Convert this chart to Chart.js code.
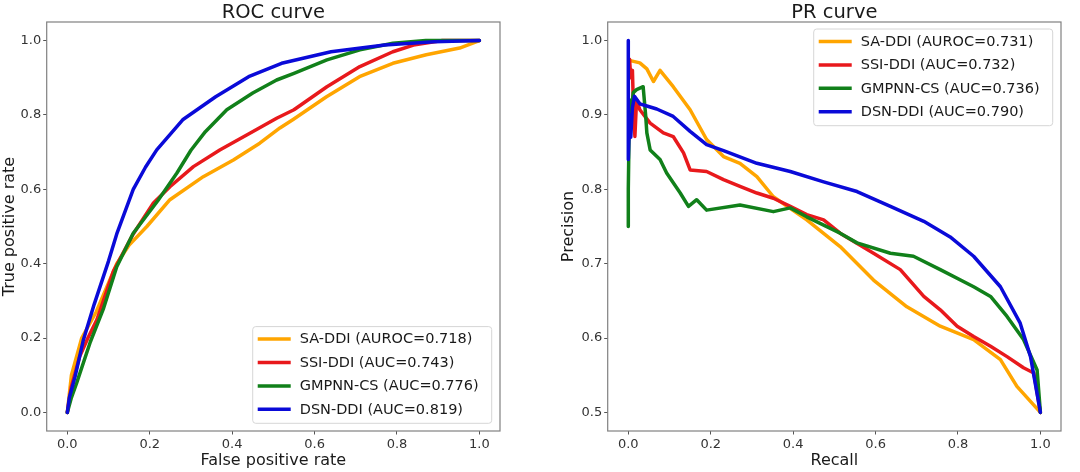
<!DOCTYPE html>
<html>
<head>
<meta charset="utf-8">
<script src="https://cdn.jsdelivr.net/npm/chart.js@4.4.1/dist/chart.umd.min.js"></script>
<style>
  html, body { margin: 0; padding: 0; background: #fff; }
  #wrap { position: relative; width: 1080px; height: 472px; }
  .pane { position: absolute; top: 0; width: 540px; height: 472px; }
</style>
</head>
<body>
<div id="wrap">
  <div class="pane" style="left:0"><canvas id="roc" width="540" height="472"></canvas></div>
  <div class="pane" style="left:540px"><canvas id="pr" width="540" height="472"></canvas></div>
</div>
<script>
// ---- data ----
const rocLabels = ['SA-DDI (AUROC=0.718)', 'SSI-DDI (AUC=0.743)', 'GMPNN-CS (AUC=0.776)', 'DSN-DDI (AUC=0.819)'];
const prLabels = ['SA-DDI (AUROC=0.731)', 'SSI-DDI (AUC=0.732)', 'GMPNN-CS (AUC=0.736)', 'DSN-DDI (AUC=0.790)'];
const lineColors = ['#FFA500', '#E8191C', '#11801A', '#0A0AD8'];

const unitTicks = [0, 0.2, 0.4, 0.6, 0.8, 1.0];
const precisionTicks = [0.5, 0.6, 0.7, 0.8, 0.9, 1.0];

// ROC: false positive rate / true positive rate
const saRocX = [0, 0.01, 0.035, 0.07, 0.12, 0.15, 0.193, 0.249, 0.33, 0.403, 0.467, 0.516, 0.548, 0.629, 0.709, 0.79, 0.871, 0.952, 1.0];
const saRocY = [0, 0.1, 0.2, 0.27, 0.4, 0.45, 0.5, 0.572, 0.634, 0.679, 0.724, 0.765, 0.788, 0.849, 0.903, 0.939, 0.962, 0.98, 1.0];
const ssiRocX = [0, 0.01, 0.03, 0.05, 0.072, 0.112, 0.16, 0.209, 0.249, 0.306, 0.37, 0.443, 0.508, 0.55, 0.63, 0.71, 0.79, 0.84, 0.91, 1.0];
const ssiRocY = [0, 0.07, 0.15, 0.2, 0.25, 0.38, 0.48, 0.563, 0.607, 0.661, 0.706, 0.751, 0.791, 0.814, 0.876, 0.93, 0.97, 0.988, 1.0, 1.0];
const gmpRocX = [0, 0.01, 0.023, 0.056, 0.088, 0.12, 0.16, 0.22, 0.266, 0.3, 0.335, 0.387, 0.45, 0.508, 0.55, 0.63, 0.71, 0.79, 0.87, 1.0];
const gmpRocY = [0, 0.04, 0.08, 0.19, 0.28, 0.392, 0.482, 0.57, 0.644, 0.705, 0.755, 0.814, 0.859, 0.894, 0.912, 0.948, 0.975, 0.993, 1.0, 1.0];
const dsnRocX = [0, 0.005, 0.019, 0.039, 0.065, 0.1, 0.12, 0.16, 0.19, 0.217, 0.28, 0.36, 0.44, 0.52, 0.64, 0.77, 0.89, 1.0];
const dsnRocY = [0, 0.04, 0.097, 0.195, 0.29, 0.407, 0.48, 0.60, 0.66, 0.706, 0.787, 0.849, 0.903, 0.939, 0.970, 0.988, 0.997, 1.0];

// PR: recall / precision
const saPrX = [0.005, 0.028, 0.045, 0.061, 0.077, 0.109, 0.15, 0.19, 0.231, 0.271, 0.312, 0.352, 0.433, 0.514, 0.595, 0.676, 0.757, 0.838, 0.903, 0.943, 1.0];
const saPrY = [0.973, 0.970, 0.962, 0.945, 0.960, 0.938, 0.907, 0.867, 0.844, 0.835, 0.817, 0.790, 0.759, 0.723, 0.678, 0.642, 0.616, 0.598, 0.571, 0.535, 0.5];
const ssiPrX = [0.003, 0.006, 0.01, 0.013, 0.016, 0.02, 0.028, 0.053, 0.085, 0.109, 0.134, 0.15, 0.19, 0.231, 0.271, 0.312, 0.352, 0.393, 0.433, 0.474, 0.514, 0.595, 0.66, 0.717, 0.757, 0.798, 0.838, 0.879, 0.919, 0.959, 0.984, 1.0];
const ssiPrY = [0.975, 0.95, 0.96, 0.90, 0.871, 0.92, 0.907, 0.889, 0.876, 0.871, 0.849, 0.826, 0.824, 0.813, 0.804, 0.795, 0.788, 0.777, 0.766, 0.759, 0.741, 0.714, 0.692, 0.656, 0.638, 0.616, 0.602, 0.589, 0.575, 0.56, 0.553, 0.5];
const gmpPrX = [0, 0, 0.003, 0.008, 0.012, 0.02, 0.036, 0.042, 0.045, 0.053, 0.077, 0.093, 0.126, 0.146, 0.166, 0.19, 0.271, 0.352, 0.393, 0.433, 0.514, 0.555, 0.636, 0.692, 0.757, 0.838, 0.879, 0.919, 0.959, 0.992, 1.0];
const gmpPrY = [0.75, 0.80, 0.92, 0.91, 0.93, 0.934, 0.938, 0.90, 0.876, 0.853, 0.840, 0.822, 0.795, 0.777, 0.786, 0.772, 0.779, 0.770, 0.775, 0.763, 0.741, 0.728, 0.714, 0.710, 0.692, 0.669, 0.656, 0.629, 0.598, 0.557, 0.5];
const dsnPrX = [0, 0, 0.003, 0.006, 0.01, 0.015, 0.028, 0.045, 0.069, 0.109, 0.15, 0.19, 0.231, 0.312, 0.393, 0.474, 0.555, 0.636, 0.717, 0.781, 0.838, 0.903, 0.951, 0.976, 1.0];
const dsnPrY = [1.0, 0.84, 0.90, 0.87, 0.91, 0.925, 0.915, 0.912, 0.908, 0.898, 0.878, 0.86, 0.852, 0.835, 0.824, 0.81, 0.797, 0.777, 0.757, 0.736, 0.71, 0.669, 0.62, 0.575, 0.5];

const FONT = '"DejaVu Sans", "Liberation Sans", sans-serif';

function pts(xs, ys) {
  return xs.map((x, i) => ({ x, y: ys[i] }));
}

function makeDatasets(labels, pairs) {
  return pairs.map((p, i) => ({
    label: labels[i],
    data: pts(p[0], p[1]),
    borderColor: lineColors[i],
    backgroundColor: lineColors[i],
    borderWidth: 3.5,
    borderJoinStyle: 'round',
    borderCapStyle: 'round',
    pointRadius: 0,
    fill: false,
    tension: 0,
    order: pairs.length - i   // last series drawn on top, like matplotlib
  }));
}

// frame, title and in-plot legend
const figPlugin = {
  id: 'fig',
  afterDatasetsDraw(chart) {
    const a = chart.chartArea, ctx = chart.ctx;
    ctx.save();
    ctx.strokeStyle = '#808080';
    ctx.lineWidth = 1.2;
    ctx.strokeRect(a.left, a.top, a.right - a.left, a.bottom - a.top);
    ctx.restore();
  },
  afterDraw(chart, args, opts) {
    const a = chart.chartArea, ctx = chart.ctx;
    ctx.save();
    ctx.fillStyle = '#1a1a1a';
    ctx.font = '19.5px ' + FONT;
    ctx.textAlign = 'center';
    ctx.textBaseline = 'alphabetic';
    ctx.fillText(opts.title, (a.left + a.right) / 2, 17.5);

    ctx.font = '14.5px ' + FONT;
    const sets = chart.data.datasets;
    const textW = Math.max(...sets.map(d => ctx.measureText(d.label).width));
    const rowH = 23.4;
    const boxW = 47 + textW + 13;
    const boxH = 96.7;
    const left = a.right - 8.3 - boxW;
    const top = opts.corner === 'br' ? a.bottom - 7.7 - boxH : a.top + 7;
    ctx.beginPath();
    ctx.roundRect(left, top, boxW, boxH, 3);
    ctx.fillStyle = 'rgba(255,255,255,0.85)';
    ctx.fill();
    ctx.strokeStyle = '#d6d6d6';
    ctx.lineWidth = 1;
    ctx.stroke();
    ctx.textAlign = 'left';
    ctx.textBaseline = 'middle';
    sets.forEach((d, i) => {
      const cy = top + 12.5 + i * rowH;
      ctx.strokeStyle = d.borderColor;
      ctx.lineWidth = 3.5;
      ctx.beginPath();
      ctx.moveTo(left + 5, cy);
      ctx.lineTo(left + 38, cy);
      ctx.stroke();
      ctx.fillStyle = '#1a1a1a';
      ctx.fillText(d.label, left + 47, cy + 0.5);
    });
    ctx.restore();
  }
};

function axis(tickVals, min, max, title, fitSize, isX) {
  return {
    type: 'linear',
    min, max,
    afterBuildTicks: s => { s.ticks = tickVals.map(v => ({ value: v })); },
    afterFit: s => { if (isX) s.height = fitSize; else s.width = fitSize; },
    ticks: {
      callback: v => Number(v).toFixed(1),
      font: { family: FONT, size: 13 },
      color: '#333',
      padding: 2,
      maxRotation: 0,
      autoSkip: false
    },
    grid: { display: true, drawOnChartArea: false, drawTicks: true, tickLength: 3.5, color: '#555' },
    border: { display: false },
    title: {
      display: true,
      text: title,
      font: { family: FONT, size: 16 },
      color: '#1a1a1a',
      padding: { top: 0, bottom: 2 }
    }
  };
}

function makePlot(canvasId, labels, pairs, cfg) {
  return new Chart(document.getElementById(canvasId), {
    type: 'line',
    data: { datasets: makeDatasets(labels, pairs) },
    options: {
      responsive: false,
      animation: false,
      layout: { padding: cfg.padding },
      scales: {
        x: axis(unitTicks, -0.05, 1.05, cfg.xTitle, 41, true),
        y: axis(cfg.yTicks, cfg.yMin, cfg.yMax, cfg.yTitle, cfg.yWidth, false)
      },
      plugins: {
        legend: { display: false },
        tooltip: { enabled: false },
        fig: { title: cfg.title, corner: cfg.corner }
      }
    },
    plugins: [figPlugin]
  });
}

makePlot('roc', rocLabels,
  [[saRocX, saRocY], [ssiRocX, ssiRocY], [gmpRocX, gmpRocY], [dsnRocX, dsnRocY]],
  { title: 'ROC curve', xTitle: 'False positive rate', yTitle: 'True positive rate',
    yTicks: unitTicks, yMin: -0.05, yMax: 1.05, yWidth: 46.7, corner: 'br',
    padding: { left: 0, right: 40, top: 22, bottom: 0 } });

makePlot('pr', prLabels,
  [[saPrX, saPrY], [ssiPrX, ssiPrY], [gmpPrX, gmpPrY], [dsnPrX, dsnPrY]],
  { title: 'PR curve', xTitle: 'Recall', yTitle: 'Precision',
    yTicks: precisionTicks, yMin: 0.475, yMax: 1.025, yWidth: 48.3, corner: 'tr',
    padding: { left: 19.4, right: 19, top: 22, bottom: 0 } });
</script>
</body>
</html>
